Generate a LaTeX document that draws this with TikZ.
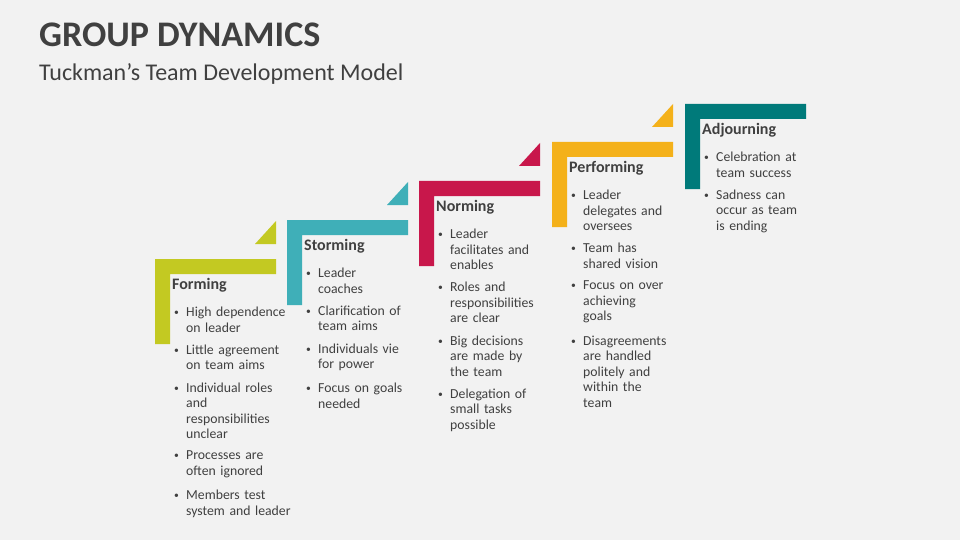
\documentclass[tikz,border=0pt]{standalone}
\usepackage{fontspec}
\setmainfont{Carlito}
\usetikzlibrary{positioning}
\definecolor{bg}{HTML}{F2F2F2}
\definecolor{txt}{HTML}{404040}
\definecolor{cform}{HTML}{C3C922}
\definecolor{cstorm}{HTML}{3FAFB8}
\definecolor{cnorm}{HTML}{C8174B}
\definecolor{cperf}{HTML}{F4B11A}
\definecolor{cadj}{HTML}{007A7A}
\newcommand\bul[1]{\makebox[12pt][l]{\raisebox{1pt}{\scalebox{0.7}{\textbullet}}}\parbox[t]{120pt}{#1}\par\vspace{11.5pt}}
\begin{document}
\begin{tikzpicture}[x=1pt,y=-1pt,
                head/.style={anchor=west,inner sep=0,font=\fontsize{16}{19}\selectfont\bfseries,text=txt},
                items/.style={anchor=north west,inner sep=0,text width=135pt,align=left,
                  font=\fontsize{13.75}{15.5}\selectfont,text=txt}]
                \fill[bg] (0,0) rectangle (960,540);
                \node[anchor=west,inner sep=0,font=\fontsize{36}{40}\selectfont\bfseries,text=txt] (title) at (39,35){GROUP DYNAMICS};
                \node[anchor=west,inner sep=0,font=\fontsize{24}{28}\selectfont,text=txt] (subtitle) at (39,74){Tuckman's Team Development Model};
                % steps: corner shape and triangle
                \foreach \x/\y/\c/\t in {155/259/cform/1,287/220/cstorm/1,419/181/cnorm/1,552/142/cperf/1,685/104/cadj/0}{
                  \fill[\c] (\x,\y) -- ++(121,0) -- ++(0,15) -- ++(-106,0) -- ++(0,70) -- ++(-15,0) -- cycle;
                  \ifnum\t=1 \fill[\c] (\x+121,\y-38) -- (\x+121,\y-15) -- (\x+100,\y-15) -- cycle; \fi
                }
                \node[head] (forming) at (172,285){Forming};
                \node[items] (formlist) at (174,307){%
                  \bul{High dependence\\on leader}
                  \bul{Little agreement\\on team aims}
                  \bul{Individual roles\\and\\responsibilities\\unclear}
                  \bul{Processes are\\often ignored}
                  \bul{Members test\\system and leader}};
                \node[head] (storming) at (304,246){Storming};
                \node[items] (stormlist) at (306,268){%
                  \bul{Leader\\coaches}
                  \bul{Clarification of\\team aims}
                  \bul{Individuals vie\\for power}
                  \bul{Focus on goals\\needed}};
                \node[head] (norming) at (436,207){Norming};
                \node[items] (normlist) at (438,229){%
                  \bul{Leader\\facilitates and\\enables}
                  \bul{Roles and\\responsibilities\\are clear}
                  \bul{Big decisions\\are made by\\the team}
                  \bul{Delegation of\\small tasks\\possible}};
                \node[head] (performing) at (569,168){Performing};
                \node[items] (perflist) at (571,190){%
                  \bul{Leader\\delegates and\\oversees}
                  \bul{Team has\\shared vision}
                  \bul{Focus on over\\achieving\\goals}
                  \bul{Disagreements\\are handled\\politely and\\within the\\team}};
                \node[head] (adjourning) at (702,130){Adjourning};
                \node[items] (adjlist) at (704,152){%
                  \bul{Celebration at\\team success}
                  \bul{Sadness can\\occur as team\\is ending}};
\end{tikzpicture}
\end{document}
